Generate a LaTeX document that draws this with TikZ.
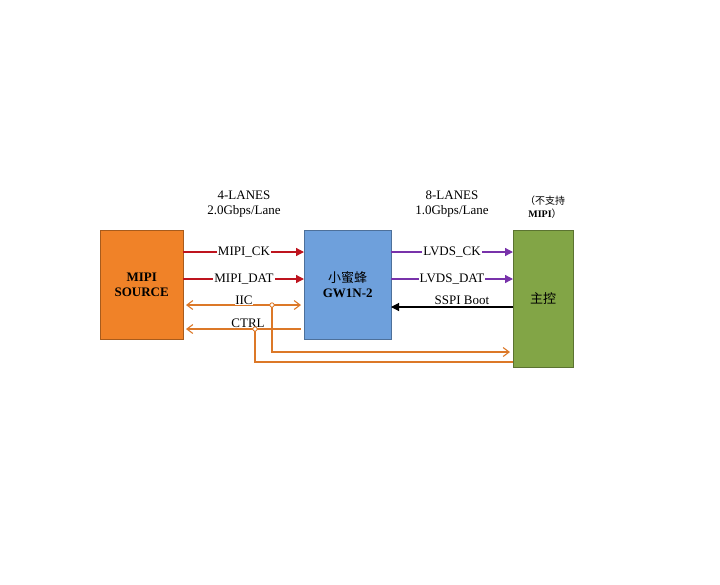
\documentclass[tikz,border=0pt]{standalone}
\usepackage{fontspec}
\setmainfont{Liberation Serif}
\newfontfamily\cjk{Noto Sans CJK SC}
\usetikzlibrary{arrows.meta}
\definecolor{org}{RGB}{240,130,40}
\definecolor{blu}{RGB}{110,160,220}
\definecolor{grn}{RGB}{130,165,70}
\definecolor{ln}{RGB}{220,120,40}
\definecolor{rd}{RGB}{190,20,30}
\definecolor{pu}{RGB}{120,50,170}
\begin{document}
\begin{tikzpicture}[x=1pt,y=-1pt,font=\fontsize{13}{15}\selectfont,
 box/.style={draw=#1!70!black,fill=#1,inner sep=0,anchor=north west},
 lbl/.style={fill=white,inner sep=1pt},
 ra/.style={rd,line width=1.3pt,-{Triangle[length=8pt,width=8pt]}},
 pa/.style={pu,line width=1.3pt,-{Triangle[length=8pt,width=8pt]}},
 oa/.style={ln,line width=1.1pt},
 ot/.style={Straight Barb[length=6pt,width=9pt,line width=1.1pt]}]
\useasboundingbox (0,0) rectangle (720,584);
\node[box=org,minimum width=83,minimum height=109] (src) at (100,230) {};
\node[font=\fontsize{13}{15}\selectfont\bfseries,align=center] at (src.center) {MIPI\\SOURCE};
\node[box=blu,minimum width=87,minimum height=109] (gw) at (304,230) {};
\node[align=center] at (gw.center) {{\cjk 小蜜蜂}\\\textbf{GW1N-2}};
\node[box=grn,minimum width=60,minimum height=137] (mc) at (513,230) {};
\node at (mc.center) {\cjk 主控};
\node[align=center] at (244,204) {4-LANES\\2.0Gbps/Lane};
\node[align=center] at (452,204) {8-LANES\\1.0Gbps/Lane};
\node[align=center,font=\fontsize{10}{13}\selectfont] at (545,207) {{\cjk （不支持}\\\textbf{MIPI}{\cjk ）}};
\draw[ra] (183,252) -- (304,252);
\node[lbl] at (244,252) {MIPI\_CK};
\draw[ra] (183,279) -- (304,279);
\node[lbl] at (244,279) {MIPI\_DAT};
\draw[pa] (391,252) -- (513,252);
\node[lbl] at (452,252) {LVDS\_CK};
\draw[pa] (391,279) -- (513,279);
\node[lbl] at (452,279) {LVDS\_DAT};
\draw[line width=1.1pt,-{Triangle[length=8pt,width=8pt]}] (513,307) -- (391,307);
\node[fill=white,inner sep=0.5pt] at (462,300) {SSPI Boot};
\draw[oa,{Straight Barb[length=6pt,width=9pt,line width=1.1pt]}-{Straight Barb[length=6pt,width=9pt,line width=1.1pt]}] (186,305) -- (301,305);
\node[fill=white,inner sep=0.5pt] at (244,300) {IIC};
\draw[oa,{Straight Barb[length=6pt,width=9pt,line width=1.1pt]}-] (186,329) -- (301,329);
\node[fill=white,inner sep=0.5pt] at (248,323) {CTRL};
\coordinate (j1) at (272,305);
\coordinate (j2) at (255,329);
\draw[oa,-{Straight Barb[length=6pt,width=9pt,line width=1.1pt]}] (j1) -- (272,352) -- (510,352);
\draw[oa] (j2) -- (255,362) -- (513,362);
\draw[ln,fill=white,line width=0.8pt] (j1) circle (2.2);
\draw[ln,fill=white,line width=0.8pt] (j2) circle (2.2);
\end{tikzpicture}
\end{document}
